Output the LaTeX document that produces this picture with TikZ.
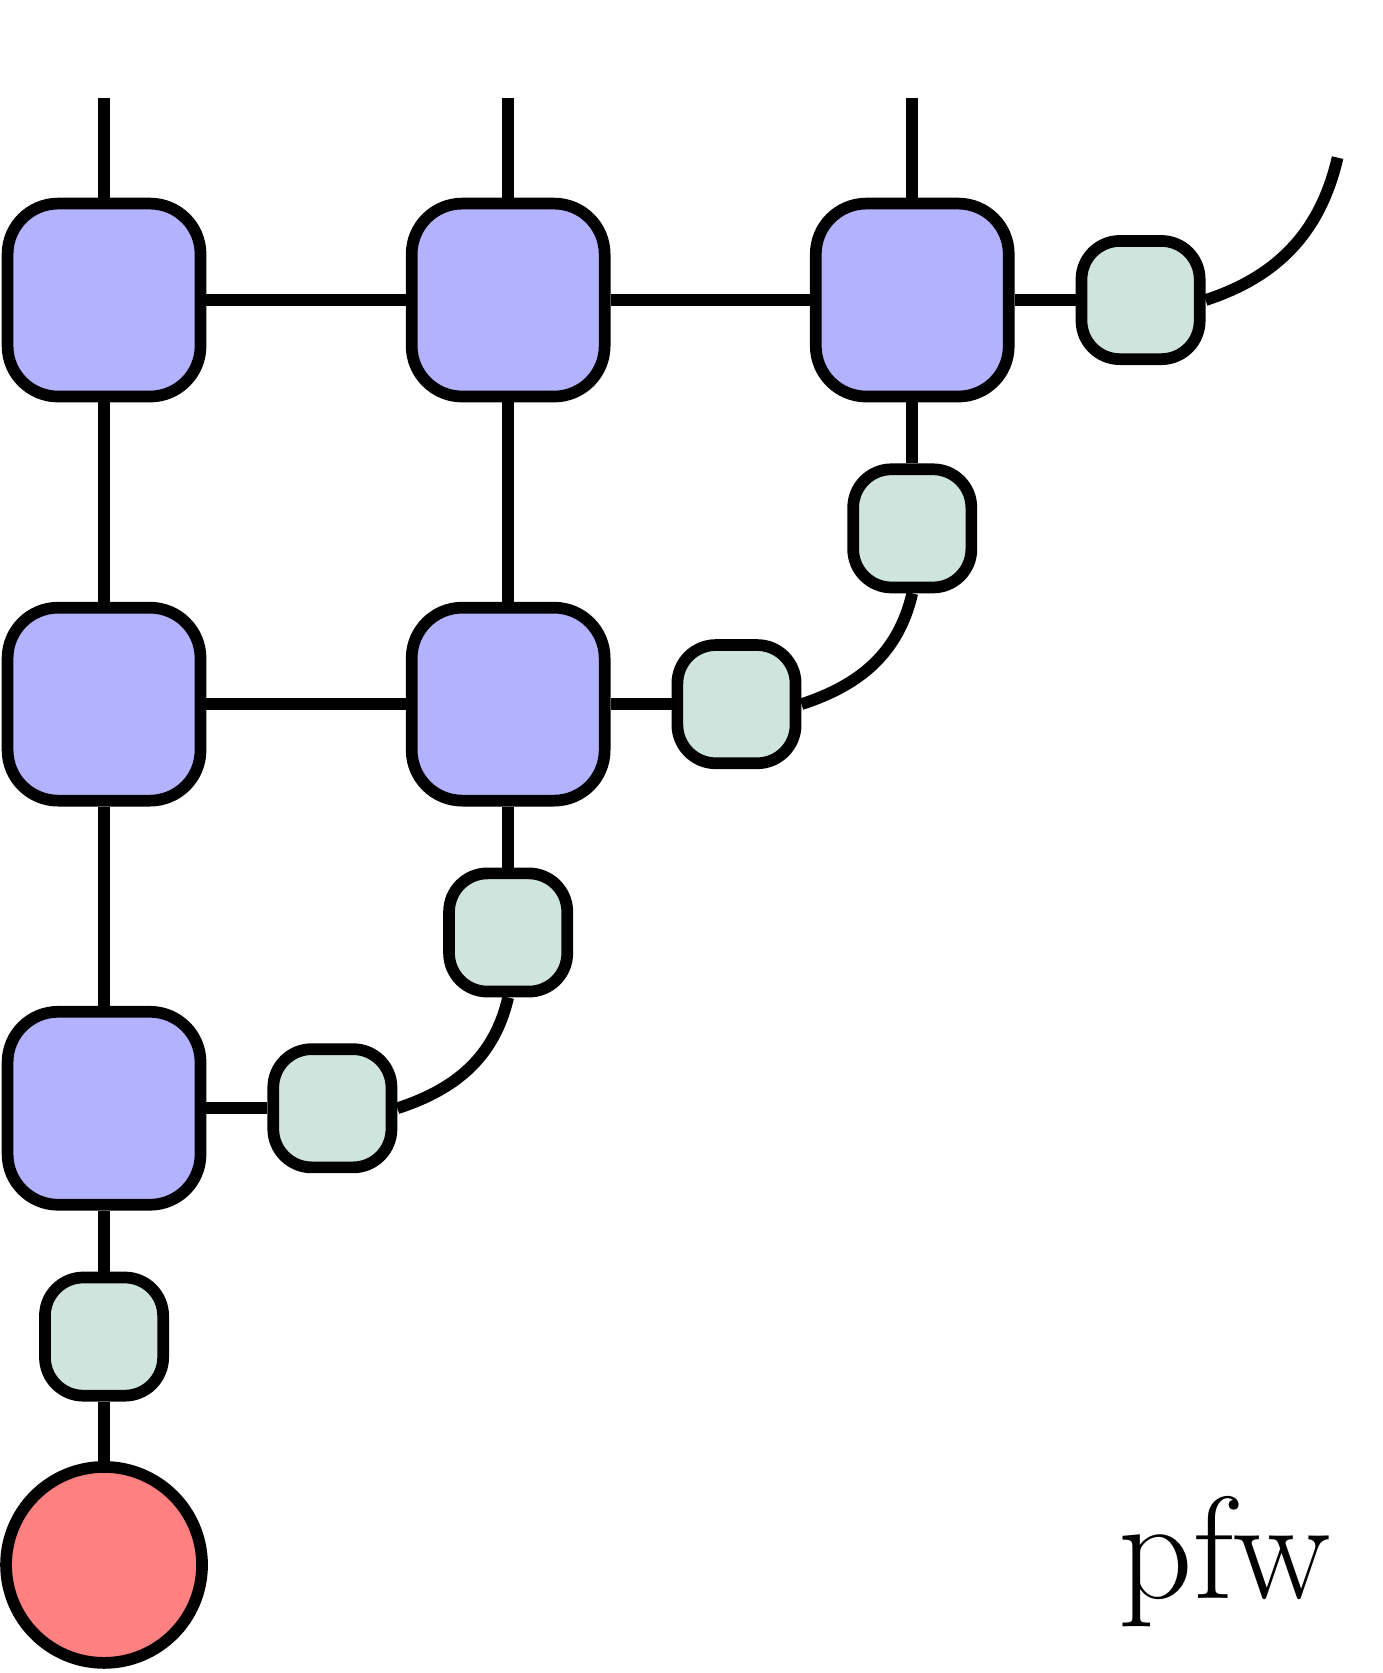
\documentclass[tikz,border=0pt]{standalone}
\definecolor{lightteal}{RGB}{208,228,222}
\begin{document}
\begin{tikzpicture}[line width=3.3pt]
        \useasboundingbox (-1.03,2.97) rectangle (12.65,-13.59);

        \begin{scope}[every node/.style={rectangle,rounded corners=0.5cm,draw,fill=blue!30,minimum size=1.91cm,inner sep=0pt}]
          \node (1) at (0,0)  {};
          \node (2) at (4,0)  {};
          \node (3) at (8,0)  {};
          \node (4) at (0,-4) {};
          \node (5) at (4,-4) {};
          \node (6) at (0,-8) {};
        \end{scope}

        \begin{scope}[every node/.style={rectangle,rounded corners=0.38cm,draw,fill=lightteal,minimum size=1.17cm,inner sep=0pt}]
          \node (7)  at (10.26,0)  {};
          \node (8)  at (8,-2.26)  {};
          \node (9)  at (6.26,-4)  {};
          \node (10) at (4,-6.26)  {};
          \node (11) at (2.26,-8)  {};
          \node (12) at (0,-10.26) {};
        \end{scope}

        \node[circle,draw,fill=red!50,minimum size=1.94cm,inner sep=0pt] (13) at (0,-12.52) {};

        \coordinate (u1) at (0,2);
        \coordinate (u2) at (4,2);
        \coordinate (u3) at (8,2);
        \coordinate (u4) at (12.21,1.41);

        \begin{scope}[every edge/.style={draw}]
          \path (1)  edge (u1);
          \path (2)  edge (u2);
          \path (3)  edge (u3);
          \path (1)  edge (2);
          \path (2)  edge (3);
          \path (3)  edge (7);
          \path (1)  edge (4);
          \path (2)  edge (5);
          \path (3)  edge (8);
          \path (4)  edge (5);
          \path (5)  edge (9);
          \path (5)  edge (10);
          \path (4)  edge (6);
          \path (6)  edge (11);
          \path (6)  edge (12);
          \path (12) edge (13);
          \path (11.east) edge[out=18,in=-103] (10.south);
          \path (9.east)  edge[out=18,in=-103] (8.south);
          \path (7.east)  edge[out=18,in=-103] (u4);
        \end{scope}

        \node[anchor=base east,inner sep=0pt,font=\fontsize{41}{48}\selectfont] (14) at (12.2,-12.85) {pfw};

      \end{tikzpicture}
\end{document}
